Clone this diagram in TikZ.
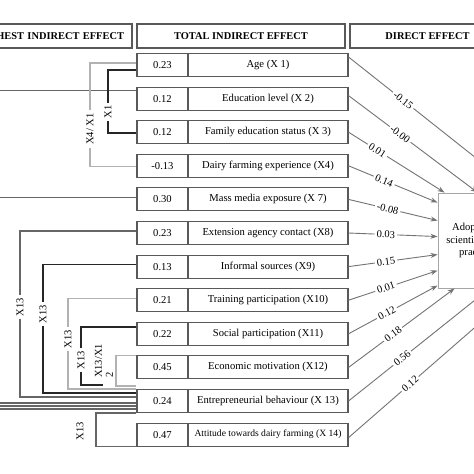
\documentclass[tikz,border=0pt]{standalone}
\usepackage{fontspec}
\setmainfont{Liberation Serif}
\usetikzlibrary{calc,arrows.meta}
\begin{document}
\begin{tikzpicture}[x=1pt,y=-1pt,
 bx/.style={draw=black!65, line width=1.1pt, minimum height=23pt, inner sep=0pt, font=\fontsize{10.6}{12}\selectfont},
 valbox/.style={bx, minimum width=51pt},
 labbox/.style={bx, minimum width=160pt},
 hdr/.style={draw=black!65, line width=1.1pt, minimum height=24pt, inner sep=0pt, font=\bfseries\fontsize{10.4}{11}\selectfont},
 arr/.style={draw=black!55, line width=0.9pt, -{Stealth[length=7pt,width=5pt]}},
 wlab/.style={sloped, fill=white, inner sep=2pt, font=\fontsize{10.5}{11}\selectfont},
 lg/.style={draw=black!30, line width=1.2pt},
 bk/.style={draw=black!85, line width=1.6pt},
 mg/.style={draw=black!60, line width=1.3pt},
 rl/.style={rotate=90, fill=white, inner sep=3pt, font=\fontsize{10.5}{11}\selectfont},
]
\useasboundingbox (0,0) rectangle (474,474);
\clip (0,0) rectangle (474,474);
\fill[white] (0,0) rectangle (474,474);

% headers
\node[hdr, minimum width=212pt, text width=196pt, align=right] (h1) at (26,36) {HIGHEST  INDIRECT  EFFECT};
\node[hdr, minimum width=208pt] (h2) at (241,36) {TOTAL  INDIRECT  EFFECT};
\node[hdr, minimum width=155pt] (h3) at (427.5,36) {DIRECT  EFFECT};

% rows
\node[valbox] (v1) at (162.5,65) {0.23};
\node[labbox] (l1) at (268,65) {Age (X 1)};
\node[valbox] (v2) at (162.5,98.6) {0.12};
\node[labbox] (l2) at (268,98.6) {Education level (X 2)};
\node[valbox] (v3) at (162.5,132.2) {0.12};
\node[labbox] (l3) at (268,132.2) {Family education status (X 3)};
\node[valbox] (v4) at (162.5,165.8) {-0.13};
\node[labbox] (l4) at (268,165.8) {Dairy farming experience (X4)};
\node[valbox] (v5) at (162.5,199.4) {0.30};
\node[labbox] (l5) at (268,199.4) {Mass media exposure (X 7)};
\node[valbox] (v6) at (162.5,233) {0.23};
\node[labbox] (l6) at (268,233) {Extension agency contact (X8)};
\node[valbox] (v7) at (162.5,266.6) {0.13};
\node[labbox] (l7) at (268,266.6) {Informal sources (X9)};
\node[valbox] (v8) at (162.5,300.2) {0.21};
\node[labbox] (l8) at (268,300.2) {Training participation (X10)};
\node[valbox] (v9) at (162.5,333.8) {0.22};
\node[labbox] (l9) at (268,333.8) {Social participation (X11)};
\node[valbox] (v10) at (162.5,367.4) {0.45};
\node[labbox] (l10) at (268,367.4) {Economic motivation (X12)};
\node[valbox] (v11) at (162.5,401) {0.24};
\node[labbox] (l11) at (268,401) {Entrepreneurial behaviour (X 13)};
\node[valbox] (v12) at (162.5,434.6) {0.47};
\node[labbox, font=\fontsize{9.6}{11}\selectfont] (l12) at (268,434.6) {Attitude towards dairy farming (X 14)};

% target
\node[draw=black!35, line width=0.9pt, minimum width=80pt, minimum height=95pt, align=center, font=\fontsize{10.6}{12.5}\selectfont] (t) at (478,240.5) {Adoption of\\scientific dairy\\practices};

% direct effects
\draw[arr] ($(l1.east)+(0,-8)$) -- node[wlab, pos=0.32]{-0.15} ($(t.north west)+(82,0)$);
\draw[arr] ($(l2.east)+(0,-3)$) -- node[wlab, pos=0.4]{-0.00} ($(t.north west)+(40,0)$);
\draw[arr] (l3.east) -- node[wlab, pos=0.3]{0.01} ($(t.north west)+(7,0)$);
\draw[arr] (l4.east) -- node[wlab, pos=0.4]{0.14} ($(t.north west)+(0,10)$);
\draw[arr] (l5.east) -- node[wlab, pos=0.44]{-0.08} ($(t.north west)+(0,28)$);
\draw[arr] (l6.east) -- node[wlab, pos=0.42]{0.03} ($(t.north west)+(0,44)$);
\draw[arr] (l7.east) -- node[wlab, pos=0.42]{0.15} ($(t.north west)+(0,62)$);
\draw[arr] (l8.east) -- node[wlab, pos=0.42]{0.01} ($(t.north west)+(0,78)$);
\draw[arr] (l9.east) -- node[wlab, pos=0.43]{0.12} ($(t.north west)+(0,93)$);
\draw[arr] (l10.east) -- node[wlab, pos=0.42]{0.18} ($(t.south west)+(17,0)$);
\draw[arr] (l11.east) -- node[wlab, pos=0.38]{0.56} ($(t.south west)+(52,0)$);
\draw[arr] ($(l12.east)+(0,3)$) -- node[wlab, pos=0.36]{0.12} ($(t.south west)+(82,0)$);

% off-page ends
\coordinate (o2) at (-10,90.6);
\coordinate (o5) at (-10,197.4);
\coordinate (o11a) at (-10,403);
\coordinate (o11b) at (-10,406);
\coordinate (o11c) at (-10,409);
\coordinate (s9) at (103,385);

% indirect brackets
\draw[mg] ($(v2.west)+(0,-8)$) -- (o2);
\draw[mg] ($(v5.west)+(0,-2)$) -- (o5);
\draw[lg] ($(v1.west)+(0,-2)$) -| (90,129) node[rl, inner ysep=6pt]{X4/ X1} |- ($(v4.west)+(0,1)$);
\draw[bk] ($(v1.west)+(0,5)$) -| (108,112) node[rl, inner ysep=5pt]{X1} |- ($(v3.west)+(0,1)$);

\draw[mg] ($(v6.west)+(0,-2)$) -| (20,307) node[rl, inner ysep=4pt]{X13} |- ($(v11.west)+(0,-4)$);
\draw[bk] ($(v7.west)+(0,-2)$) -| (43,314) node[rl]{X13} |- ($(v11.west)+(0,-8)$);
\draw[lg] ($(v8.west)+(0,-2)$) -| (68,339) node[rl]{X13} |- ($(v11.west)+(0,-12)$);
\draw[bk] ($(v9.west)+(0,-7)$) -| (81,360) node[rl, inner ysep=5pt]{X13} |- (s9);
\draw[lg] ($(v10.west)+(0,-12)$) -| (116,370) |- ($(v11.west)+(0,-15)$);
\node[rl, align=left, inner sep=1.5pt] (lab12) at (104,361) {X13/X1\\2};

\draw[mg] ($(v11.west)+(0,2)$) -- (o11a);
\draw[mg] ($(v11.west)+(0,5)$) -- (o11b);
\draw[mg] ($(v11.west)+(0,8)$) -- (o11c);

\draw[mg] (v11.south west) -| (96,430) |- (v12.south west);
\node[rotate=90, font=\fontsize{10.5}{11}\selectfont] (lab14) at (80,431) {X13};
\end{tikzpicture}
\end{document}
